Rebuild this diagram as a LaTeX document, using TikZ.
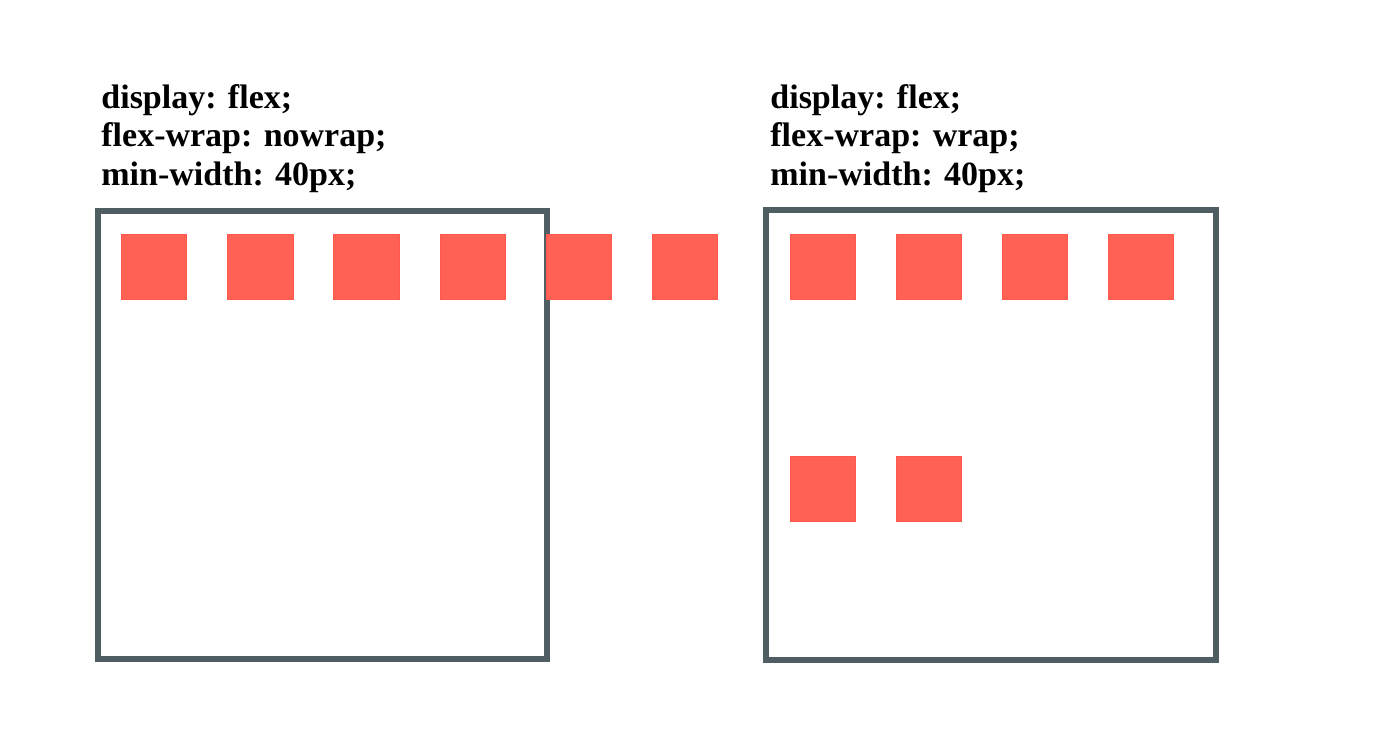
\documentclass[tikz,border=0pt]{standalone}
\usepackage{fontspec}
\setmainfont{Liberation Serif}
\definecolor{boxgray}{RGB}{79,94,99}
\definecolor{itemred}{RGB}{255,97,85}
\tikzset{
  item/.style={draw=itemred!90!red, fill=itemred, line width=0.3pt, inner sep=0pt, minimum size=32.7pt},
  container/.style={draw=boxgray, line width=3pt},
  css/.style={anchor=base west, inner sep=0pt, font=\fontsize{17}{21}\selectfont\bfseries}
}
\begin{document}
\begin{tikzpicture}[x=0.5pt, y=-0.5pt]

    \useasboundingbox (0,0) rectangle (1400,730);

    % the two containers
    \draw[container] (98,211) rectangle (547,659);
    \draw[container] (766,210) rectangle (1216,660);

    % css rules above them
    \node[css] (nowrap-1) at (101,108) {display: flex;};
    \node[css] (nowrap-2) at (101,146.5) {flex-wrap: nowrap;};
    \node[css] (nowrap-3) at (101,185) {min-width: 40px;};
    \node[css] (wrap-1) at (770,108) {display: flex;};
    \node[css] (wrap-2) at (770,146.5) {flex-wrap: wrap;};
    \node[css] (wrap-3) at (770,185) {min-width: 40px;};

    % nowrap: all six items in one line, overflowing
    \foreach \i in {1,...,6}
        \node[item] (nowrap-item-\i) at ({154+106.2*(\i-1)},267) {};

    % wrap: four items, then two on a second line
    \foreach \i in {1,...,4}
        \node[item] (wrap-item-\i) at ({823+106*(\i-1)},267) {};
    \foreach \i in {5,6}
        \node[item] (wrap-item-\i) at ({823+106*(\i-5)},488.5) {};

\end{tikzpicture}
\end{document}
